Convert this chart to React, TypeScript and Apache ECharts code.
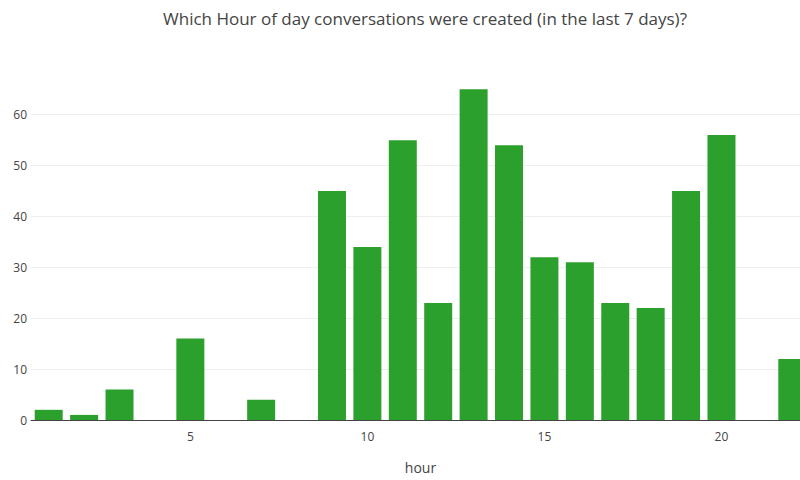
import React, { useEffect, useRef } from "react";
import * as echarts from "echarts";

const hours = [1, 2, 3, 5, 7, 9, 10, 11, 12, 13, 14, 15, 16, 17, 18, 19, 20, 22];
const counts = [2, 1, 6, 16, 4, 45, 34, 55, 23, 65, 54, 32, 31, 23, 22, 45, 56, 12];
const xTicks = [5, 10, 15, 20];
const yTicks = [0, 10, 20, 30, 40, 50, 60];
const titleText = "Which Hour of day conversations were created (in the last 7 days)?";
const xName = "hour";

export default function App() {
  const ref = useRef<HTMLDivElement>(null);
  useEffect(() => {
    const chart = echarts.init(ref.current!, null, { renderer: "svg" });
    const font = "'Open Sans', 'Noto Sans', sans-serif";
    chart.setOption({
      animation: false,
      backgroundColor: "#fff",
      title: {
        text: titleText,
        left: 420,
        textAlign: "center",
        top: 5,
        textStyle: { fontFamily: font, fontSize: 17, fontWeight: "normal", color: "#444" },
      },
      grid: { left: 31, width: 779, top: 72, height: 348, outerBoundsMode: "none", containLabel: false },
      xAxis: {
        type: "value",
        min: 0.5,
        max: 22.5,
        name: xName,
        nameLocation: "middle",
        nameGap: 40,
        nameTextStyle: { fontFamily: font, fontSize: 14, color: "#444" },
        splitLine: { show: false },
        axisTick: { show: false },
        axisLine: { show: true, onZero: false, lineStyle: { color: "#444", width: 1 } },
        axisLabel: {
          customValues: xTicks,
          fontFamily: font,
          fontSize: 12,
          color: "#444",
          margin: 10,
        },
      },
      yAxis: {
        type: "value",
        min: 0,
        max: 68.4,
        interval: 10,
        axisLine: { show: false },
        axisTick: { show: false },
        splitLine: { show: true, showMinLine: false, showMaxLine: false, lineStyle: { color: "#eee", width: 1 } },
        axisLabel: {
          customValues: yTicks,
          fontFamily: font,
          fontSize: 12,
          color: "#444",
          margin: 4,
        },
      },
      series: [
        {
          type: "bar",
          data: hours.map((h, i) => [h, counts[i]]),
          barWidth: 28,
          itemStyle: { color: "#2ca02c" },
        },
      ],
    });
    return () => chart.dispose();
  }, []);
  return <div ref={ref} style={{ width: 800, height: 480, position: "absolute", left: 0, top: 0 }} />;
}
